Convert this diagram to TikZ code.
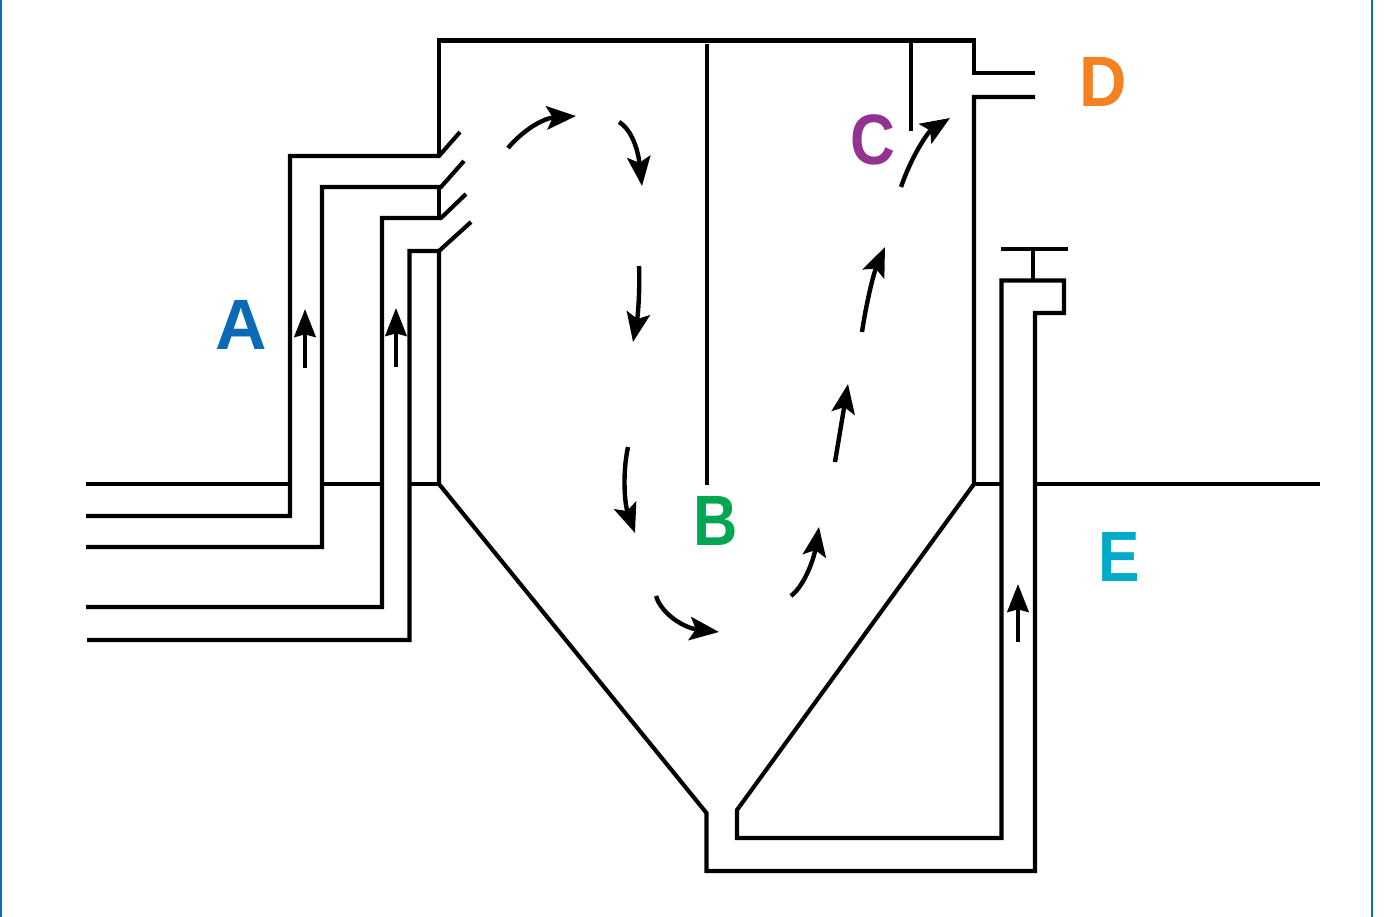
\documentclass[tikz,border=0pt]{standalone}
\usepackage{fontspec}
\setmainfont{Liberation Sans}
\usetikzlibrary{arrows.meta}
\definecolor{frameblue}{HTML}{0A6EBD}
\definecolor{labA}{HTML}{0A6AB5}
\definecolor{labB}{HTML}{00A651}
\definecolor{labC}{HTML}{92338F}
\definecolor{labD}{HTML}{F58220}
\definecolor{labE}{HTML}{00AAC8}
\tikzset{
  wall/.style={line width=3.1pt,line join=miter,line cap=butt,black},
  flow/.style={line width=3.3pt,black,-{Stealth[length=22pt,width=17.5pt,inset=4.5pt]}},
  upflow/.style={line width=3.1pt,black,-{Stealth[length=21pt,width=16pt,inset=2pt]}},
  lab/.style={font=\bfseries\fontsize{53.5}{54}\selectfont,inner sep=0pt,anchor=center},
}
\begin{document}
\begin{tikzpicture}[x=0.75pt,y=-0.75pt]
\useasboundingbox (0,0) rectangle (1389,917);
\fill[white] (0,0) rectangle (1389,917);
% frame
\draw[frameblue,line width=3pt] (0,0) -- (0,917);
\draw[frameblue,line width=2pt] (1372,0) -- (1372,917);
% vessel top
\draw[wall] (439,156) -- (439,40.5) -- (974,40.5) -- (974,73) -- (1035,73);
\draw[wall] (1035,97) -- (974,97) -- (974,484) -- (737,810) -- (737,838) -- (1001.5,838) -- (1001.5,280.5) -- (1064,280.5) -- (1064,313) -- (1035,313) -- (1035,871) -- (706.5,871) -- (706.5,813) -- (439,484) -- (439,251);
\draw[wall] (439,187) -- (439,218);
% ground
\draw[wall,line width=3.6pt] (86,484) -- (290,484);
\draw[wall] (322,484) -- (382,484);
\draw[wall] (410,484) -- (439,484);
\draw[wall] (974,484) -- (1001,484);
\draw[wall,line width=3.6pt] (1035,484) -- (1320,484);
% inlet pipes
\draw[wall] (86,516) -- (290,516) -- (290,156) -- (439,156) -- (460,132);
\draw[wall] (86,547) -- (322,547) -- (322,187) -- (441,187) -- (464,161);
\draw[wall] (86,607) -- (382,607) -- (382,218) -- (441,218) -- (466,194);
\draw[wall] (87,640) -- (409.5,640) -- (409.5,251) -- (439,251) -- (471,222);
% valve handle
\draw[wall] (1033,249) -- (1033,281);
\draw[wall] (1001,249) -- (1068,249);
% baffles
\draw[wall] (707,44) -- (707,485);
\draw[wall] (911,41) -- (911,131);
% flow arrows
\draw[upflow] (305,368) -- (305,309);
\draw[upflow] (396,367) -- (396,308);
\draw[upflow] (1018,642) -- (1018,584);
\draw[flow] (508,148) .. controls (525,128) and (545,118) .. (576,116);
\draw[flow] (619,122) .. controls (632,130) and (638,150) .. (642,186);
\draw[flow] (639,266) .. controls (640,290) and (638,315) .. (633,342);
\draw[flow] (628,447) .. controls (622,475) and (625,505) .. (635,533);
\draw[flow] (656,596) .. controls (662,615) and (685,628) .. (719,632);
\draw[flow] (791,596) .. controls (805,585) and (814,558) .. (819,527);
\draw[flow] (835,462) -- (848,384);
\draw[flow] (862,332) .. controls (866,305) and (873,275) .. (885,247);
\draw[flow] (901,187) .. controls (912,155) and (928,132) .. (950,118);
% labels
\node[lab,text=labA] (a) at (241,325) {A};
\node[lab,text=labB,xscale=0.86] (b) at (716,521) {B};
\node[lab,text=labC,xscale=0.87] (c) at (873,140) {C};
\node[lab,text=labD,xscale=0.92] (d) at (1103,82) {D};
\node[lab,text=labE,xscale=0.87] (e) at (1119,557) {E};
\end{tikzpicture}
\end{document}
